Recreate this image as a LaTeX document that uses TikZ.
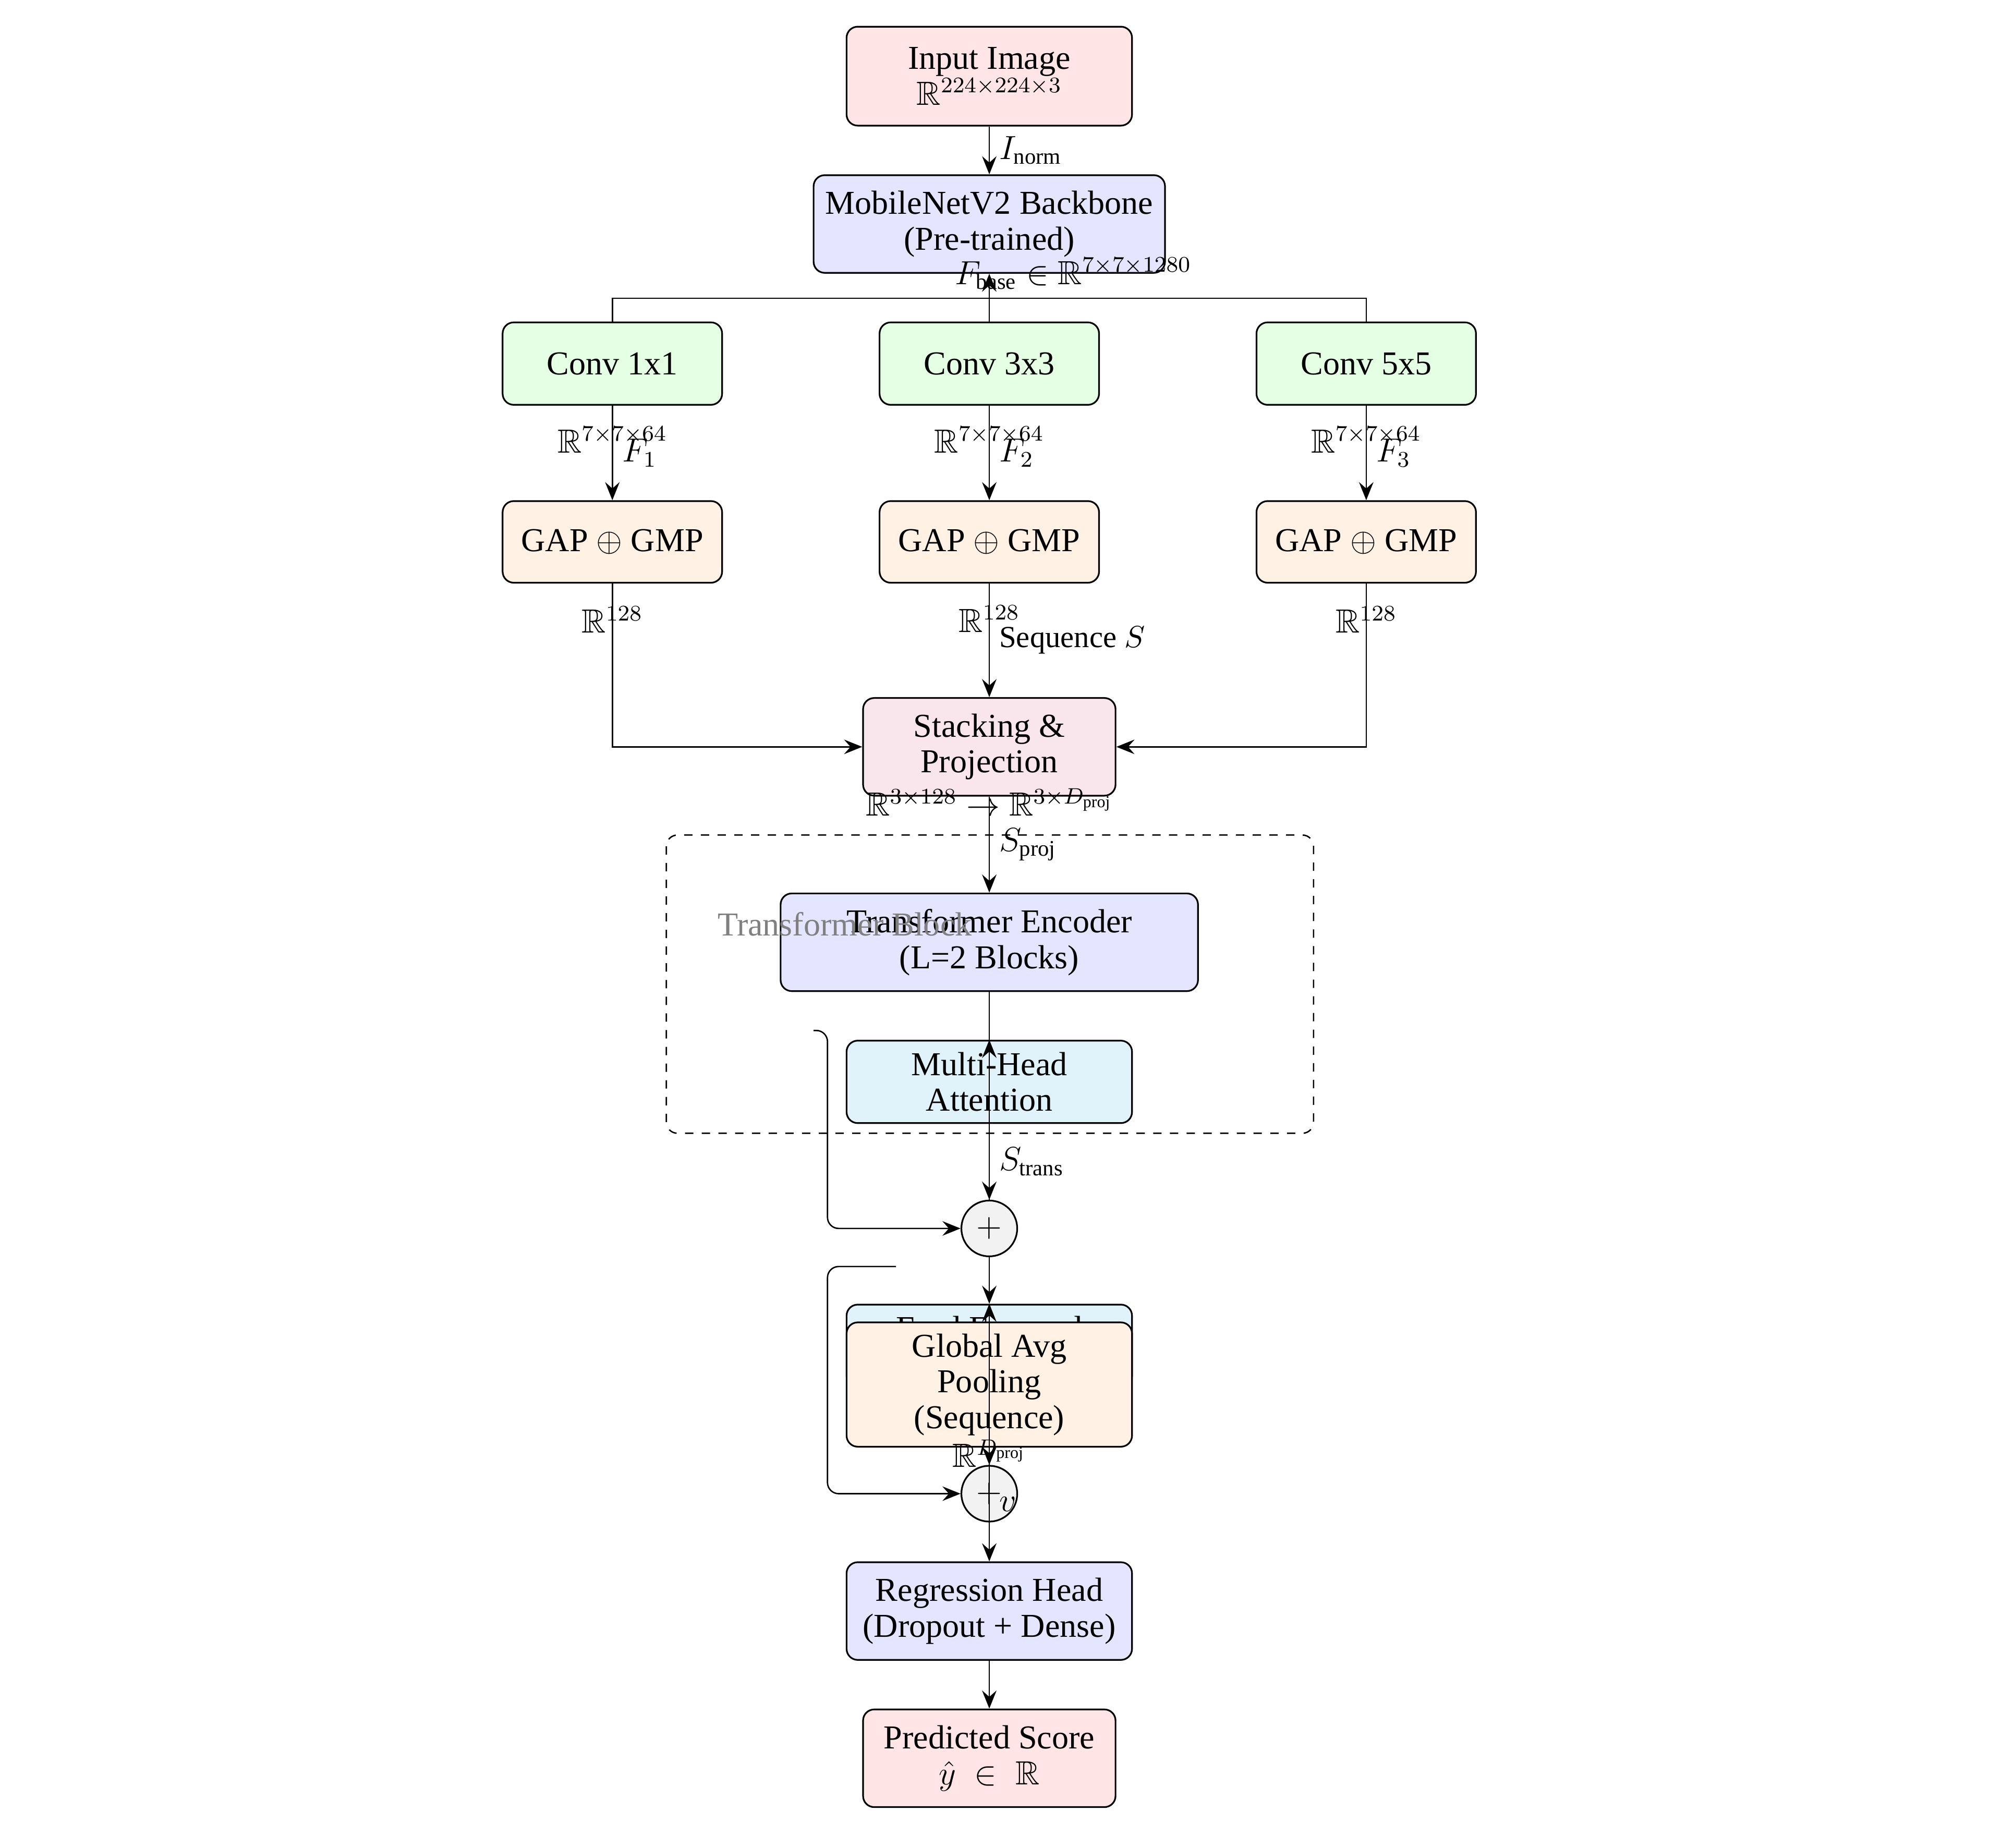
\documentclass[tikz,border=0pt]{standalone}
\usepackage{amsmath,amssymb}
\usepackage{fontspec}
\setmainfont{Liberation Serif}
\usetikzlibrary{arrows.meta,calc}
\definecolor{mhac}{RGB}{224,242,250}
\begin{document}
\begin{tikzpicture}[x=0.016cm,y=-0.016cm,
  box/.style={draw, line width=0.6pt, rounded corners=4pt, align=center, font=\fontsize{12}{12.8}\selectfont, inner sep=2pt},
  lab/.style={font=\fontsize{12}{14}\selectfont},
  arr/.style={-{Stealth[length=6.5pt,width=5.2pt,inset=2.3pt]}, line width=0.5pt},
  ln/.style={line width=0.5pt},
  addc/.style={draw, circle, line width=0.6pt, fill=gray!10, minimum size=0.704cm, inner sep=0pt, font=\fontsize{12}{14}\selectfont}]
\useasboundingbox (0,0) rectangle (1568,1456);

% dashed transformer block frame
\draw[dashed, line width=0.5pt, rounded corners=4pt] (525,658) rectangle (1035,893);

% nodes
\node[box, fill=red!10, minimum width=3.6cm, minimum height=1.248cm] (inp) at (779.5,60) {Input Image\\$\mathbb{R}^{224\times224\times3}$};
\node[box, fill=blue!10, minimum width=4.432cm, minimum height=1.232cm] (mob) at (779.5,176.5) {MobileNetV2 Backbone\\(Pre-trained)};
\node[box, fill=green!10, minimum width=2.768cm, minimum height=1.04cm] (c1) at (482.5,286.5) {Conv 1x1};
\node[box, fill=green!10, minimum width=2.768cm, minimum height=1.04cm] (c2) at (779.5,286.5) {Conv 3x3};
\node[box, fill=green!10, minimum width=2.768cm, minimum height=1.04cm] (c3) at (1076.5,286.5) {Conv 5x5};
\node[box, fill=orange!10, minimum width=2.768cm, minimum height=1.03cm] (g1) at (482.5,427) {GAP $\oplus$ GMP};
\node[box, fill=orange!10, minimum width=2.768cm, minimum height=1.03cm] (g2) at (779.5,427) {GAP $\oplus$ GMP};
\node[box, fill=orange!10, minimum width=2.768cm, minimum height=1.03cm] (g3) at (1076.5,427) {GAP $\oplus$ GMP};
\node[box, fill=purple!10, minimum width=3.184cm, minimum height=1.232cm] (stack) at (779.5,588.5) {Stacking \&\\Projection};
\node[box, fill=blue!10, minimum width=5.264cm, minimum height=1.232cm] (trans) at (779.5,742.5) {Transformer Encoder\\(L=2 Blocks)};
\node[box, fill=mhac, minimum width=3.6cm, minimum height=1.04cm] (mha) at (779.5,852.5) {Multi-Head\\Attention};
\node[addc] (add1) at (779.5,968) {$+$};
\node[box, fill=mhac, minimum width=3.6cm, minimum height=1.04cm] (ff) at (779.5,1060.5) {Feed Forward\\Network};
\node[box, fill=orange!10, minimum width=3.6cm, minimum height=1.568cm] (pool) at (779.5,1091) {Global Avg\\Pooling\\(Sequence)};
\node[addc] (add2) at (779.5,1177) {$+$};
\node[box, fill=blue!10, minimum width=3.6cm, minimum height=1.232cm] (reg) at (779.5,1269.5) {Regression Head\\(Dropout + Dense)};
\node[box, fill=red!10, minimum width=3.184cm, minimum height=1.232cm] (pred) at (779.5,1385.5) {Predicted Score\\$\hat{y} \;\in\; \mathbb{R}$};

\node[lab, anchor=base west, text=gray, inner sep=0pt] (tblabel) at (565,737.5) {Transformer Block};

% coordinates
\coordinate (split) at (779.5,235);
\coordinate (s1) at (641,812);
\coordinate (k1) at (652,812);
\coordinate (s2) at (706,998);
\coordinate (k2) at (652,998);

% connectors
\draw[arr] (inp) -- node[lab,right]{$I_{\text{norm}}$} (mob);
\draw[arr] (c2.north) -- (mob.south);
\node[lab, anchor=base west, inner sep=0pt] (fbase) at (752,224) {$F_{\text{base}} \in \mathbb{R}^{7\times7\times1280}$};
\draw[ln] (split) -| (c1.north);
\draw[ln] (split) -| (c3.north);

\draw[arr] (c1) -- node[lab,right]{$F_1$} node[lab,pos=0.36]{$\mathbb{R}^{7\times7\times64}$} (g1);
\draw[arr] (c2) -- node[lab,right]{$F_2$} node[lab,pos=0.36]{$\mathbb{R}^{7\times7\times64}$} (g2);
\draw[arr] (c3) -- node[lab,right]{$F_3$} node[lab,pos=0.36]{$\mathbb{R}^{7\times7\times64}$} (g3);

\draw[arr] (g1.south) |- node[lab,pos=0.11]{$\mathbb{R}^{128}$} (stack.west);
\draw[arr] (g3.south) |- node[lab,pos=0.11]{$\mathbb{R}^{128}$} (stack.east);
\draw[arr] (g2) -- node[lab,right,font=\fontsize{11}{13}\selectfont]{Sequence $S$} node[lab,pos=0.31]{$\mathbb{R}^{128}$} (stack);

\draw[arr] (stack) -- node[lab,right]{$S_{\text{proj}}$} (trans);
\node[lab, anchor=base] (projdim) at (779.5,643) {$\mathbb{R}^{3\times128} \rightarrow \mathbb{R}^{3\times D_{\text{proj}}}$};

\draw[ln] (trans.south) -- (mha.north);
\draw[arr] (add1.north) -- (mha.north);
\draw[arr] (mha.south) -- node[lab,right]{$S_{\text{trans}}$} (add1.north);
\draw[arr, rounded corners=4pt] (s1) -- (k1) |- (add1.west);

\draw[arr] (add1) -- (ff);
\draw[arr] (add2.north) -- (ff.north);
\draw[arr] (pool.south) -- (add2.north);
\node[lab, anchor=base] (pooldim) at (779.5,1156) {$\mathbb{R}^{D_{\text{proj}}}$};
\draw[arr, rounded corners=4pt] (s2) -- (k2) |- (add2.west);
\draw[arr] (pool) -- node[lab,right]{$v$} (reg);
\draw[arr] (reg) -- (pred);
\end{tikzpicture}
\end{document}
